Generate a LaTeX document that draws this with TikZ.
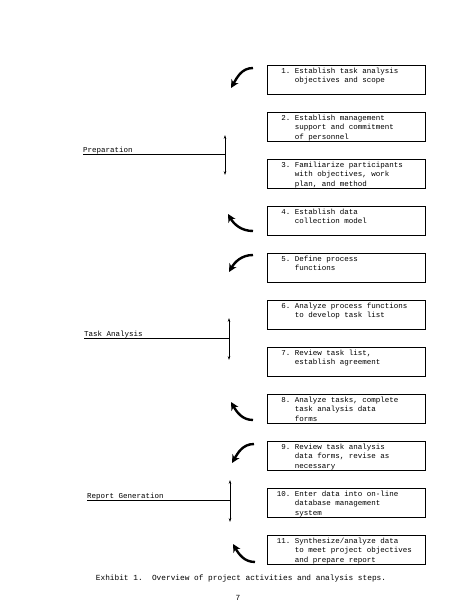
\documentclass[tikz,border=0pt]{standalone}
\usepackage{fontspec}
\setmonofont{Liberation Mono}
\usetikzlibrary{positioning,arrows.meta}

\tikzset{
  taskbox/.style={draw, line width=0.7pt, anchor=north west, inner xsep=4pt, inner ysep=1.5pt,
    font=\ttfamily\fontsize{7.5}{9.6}\selectfont},
  phase/.style={anchor=south west, inner sep=0pt, font=\ttfamily\fontsize{7.5}{10}\selectfont},
  bigarrow/.style={line width=2.4pt, -{Stealth[length=8pt,width=8pt]}},
  span/.style={line width=0.6pt, {Stealth[length=4pt,width=2.6pt]}-{Stealth[length=4pt,width=2.6pt]}}
}
\newcommand{\steptext}[2]{\parbox[t][26pt][t]{150pt}{\vspace*{1pt}\makebox[19pt][r]{#1}\ \parbox[t]{128pt}{#2}}}

\begin{document}
\begin{tikzpicture}[x=1pt, y=1pt, node distance=17.3pt]
			\useasboundingbox (0,0) rectangle (474,-613);

			% steps
			\node[taskbox] (s1) at (267,-65) {\steptext{1.}{Establish task analysis\\objectives and scope}};
			\node[taskbox, below=of s1] (s2) {\steptext{2.}{Establish management\\support and commitment\\of personnel}};
			\node[taskbox, below=of s2] (s3) {\steptext{3.}{Familiarize participants\\with objectives, work\\plan, and method}};
			\node[taskbox, below=of s3] (s4) {\steptext{4.}{Establish data\\collection model}};
			\node[taskbox, below=of s4] (s5) {\steptext{5.}{Define process\\functions}};
			\node[taskbox, below=of s5] (s6) {\steptext{6.}{Analyze process functions\\to develop task list}};
			\node[taskbox, below=of s6] (s7) {\steptext{7.}{Review task list,\\establish agreement}};
			\node[taskbox, below=of s7] (s8) {\steptext{8.}{Analyze tasks, complete\\task analysis data\\forms}};
			\node[taskbox, below=of s8] (s9) {\steptext{9.}{Review task analysis\\data forms, revise as\\necessary}};
			\node[taskbox, below=of s9] (s10) {\steptext{10.}{Enter data into on-line\\database management\\system}};
			\node[taskbox, below=of s10] (s11) {\steptext{11.}{Synthesize/analyze data\\to meet project objectives\\and prepare report}};

			% curved arrows
			\draw[bigarrow] ([shift={(-14,-3)}]s1.north west) to[out=180, in=60] ++(-22,-20);
			\draw[bigarrow] ([shift={(-14,-25)}]s4.north west) to[out=180, in=-60] ++(-25,17);
			\draw[bigarrow] ([shift={(-14,-2)}]s5.north west) to[out=180, in=60] ++(-24,-17);
			\draw[bigarrow] ([shift={(-14,-26)}]s8.north west) to[out=180, in=-60] ++(-22,18);
			\draw[bigarrow] ([shift={(-13,-3)}]s9.north west) to[out=180, in=60] ++(-22,-19);
			\draw[bigarrow] ([shift={(-12,-27)}]s11.north west) to[out=180, in=-60] ++(-22,18);

			% phases
			\node[phase] (prep) at (83,-154) {Preparation};
			\coordinate (prepj) at (225,-154);
			\coordinate (prept) at (225,-135);
			\coordinate (prepb) at (225,-175);
			\draw[line width=0.6pt] (prep.south west) -- (prepj);
			\draw[span] (prept) -- (prepb);

			\node[phase] (task) at (84,-338) {Task Analysis};
			\coordinate (taskj) at (229,-338);
			\coordinate (taskt) at (229,-318);
			\coordinate (taskb) at (229,-360);
			\draw[line width=0.6pt] (task.south west) -- (taskj);
			\draw[span] (taskt) -- (taskb);

			\node[phase] (rep) at (87,-500) {Report Generation};
			\coordinate (repj) at (230,-500);
			\coordinate (rept) at (230,-480);
			\coordinate (repb) at (230,-522);
			\draw[line width=0.6pt] (rep.south west) -- (repj);
			\draw[span] (rept) -- (repb);

			% caption
			\node[font=\ttfamily\fontsize{7.8}{10}\selectfont] (cap) at (241,-578) {Exhibit 1.\ \ Overview of project activities and analysis steps.};
			\node[font=\ttfamily\fontsize{7.8}{10}\selectfont] (pg) at (238,-598) {7};

		\end{tikzpicture}
\end{document}
